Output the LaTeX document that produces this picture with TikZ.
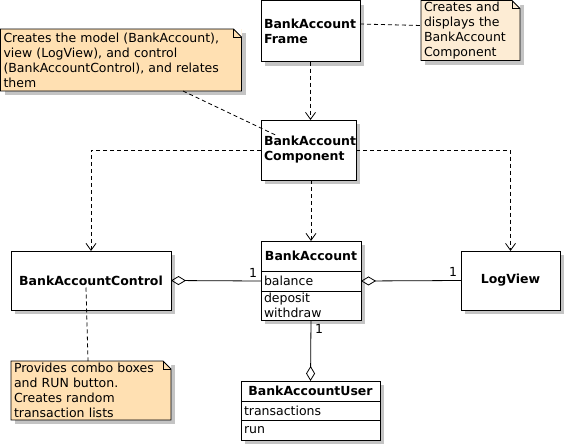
\documentclass[tikz,border=0pt]{standalone}
\usepackage{fontspec}
\setmainfont{DejaVu Sans}
\usetikzlibrary{arrows.meta,shadows}
\definecolor{notedeep}{HTML}{FFE0B2}
\definecolor{notepale}{HTML}{FDECD4}
\definecolor{shade}{HTML}{C4C4C4}

\begin{document}
\begin{tikzpicture}[x=1pt, y=-1pt, line width=0.8pt,
    every node/.style={font=\fontsize{12.5}{15}\selectfont, outer sep=0pt},
    box/.style={draw, fill=white, anchor=north west, inner xsep=3pt, inner ysep=1pt,
      drop shadow={shadow xshift=4pt, shadow yshift=-4pt, fill=shade, opacity=1}},
    cls/.style={box, font=\fontsize{12.5}{15}\selectfont\bfseries},
    part/.style={box, align=left},
    note/.style={fill=#1, anchor=north west, inner xsep=3pt, inner ysep=1pt, align=left,
      drop shadow={shadow xshift=4pt, shadow yshift=-4pt, fill=shade, opacity=1}},
    link/.style={dash pattern=on 4pt off 3pt},
    dep/.style={link, -{Straight Barb[length=7pt, width=10pt]}},
    agg/.style={{Diamond[open, length=15pt, width=9pt]}-},
    mult/.style={inner sep=4pt}]
  \useasboundingbox (0,0) rectangle (565,445);

  % classes
  \node[cls, text width=93pt, minimum height=61pt, align=left] (frame) at (261,0.5) {BankAccount\\Frame};
  \node[cls, text width=89pt, minimum height=60pt, align=left] (component) at (261,120) {BankAccount\\Component};
  \node[cls, text width=154pt, minimum height=59pt, align=center] (control) at (11,251) {BankAccountControl};
  \node[cls, text width=93pt, minimum height=59pt, align=center] (log) at (461,251) {LogView};
  \node[cls, text width=94pt, minimum height=30pt, align=center] (account) at (261,241) {BankAccount};
  \node[part, text width=94pt, minimum height=20pt] (accountattr) at (account.south west) {balance};
  \node[part, text width=94pt, minimum height=29pt] (accountops) at (accountattr.south west) {deposit\\withdraw};
  \node[cls, text width=133pt, minimum height=20pt, align=center] (user) at (241,381) {BankAccountUser};
  \node[part, text width=133pt, minimum height=19pt] (userattr) at (user.south west) {transactions};
  \node[part, text width=133pt, minimum height=20pt] (userops) at (userattr.south west) {run};

  % notes
  \node[note=notedeep, text width=235pt, minimum height=62pt] (notecomp) at (0.5,29)
    {Creates the model (BankAccount),\\view (LogView), and control\\(BankAccountControl), and relates\\them};
  \node[note=notepale, text width=93pt, minimum height=60pt] (noteframe) at (421,0.5)
    {Creates and\\displays the\\BankAccount\\Component};
  \node[note=notedeep, text width=154pt, minimum height=59pt] (notecontrol) at (11,361)
    {Provides combo boxes\\and RUN button.\\Creates random\\transaction lists};
  \foreach \n in {notecomp, noteframe, notecontrol} {
    \fill[white] ([xshift=-8pt]\n.north east) -- (\n.north east) -- ([yshift=-8pt]\n.north east) -- cycle;
    \draw (\n.south west) -- (\n.north west) -- ([xshift=-8pt]\n.north east)
      -- ([yshift=-8pt]\n.north east) -- (\n.south east) -- cycle;
    \draw ([xshift=-8pt]\n.north east) -- ([xshift=-8pt, yshift=-8pt]\n.north east) -- ([yshift=-8pt]\n.north east);
  }

  % dependencies
  \draw[dep] (frame.south) -- (frame.south |- component.north);
  \draw[dep] (component.west) -| (control.north);
  \draw[dep] (component.east) -| (log.north);
  \draw[dep] (component.south -| account.north) -- (account.north);

  % aggregations
  \draw[agg] (control.east) -- node[mult, pos=1, above left] {1} (accountattr.west);
  \draw[agg] (accountattr.east) -- node[mult, pos=1, above left] {1} (log.west);
  \draw[agg] (user.north) -- node[mult, pos=1, below right] {1} (accountops.south);

  % note links
  \draw[link] ([yshift=7pt]frame.east) -- ([yshift=5pt]noteframe.west);
  \draw[link] ([xshift=62pt]notecomp.south) -- ([xshift=-33pt, yshift=15pt]component.center);
  \draw[link] ([xshift=-5pt, yshift=-7pt]control.center) -- ([xshift=-3pt]notecontrol.north);
\end{tikzpicture}
\end{document}
